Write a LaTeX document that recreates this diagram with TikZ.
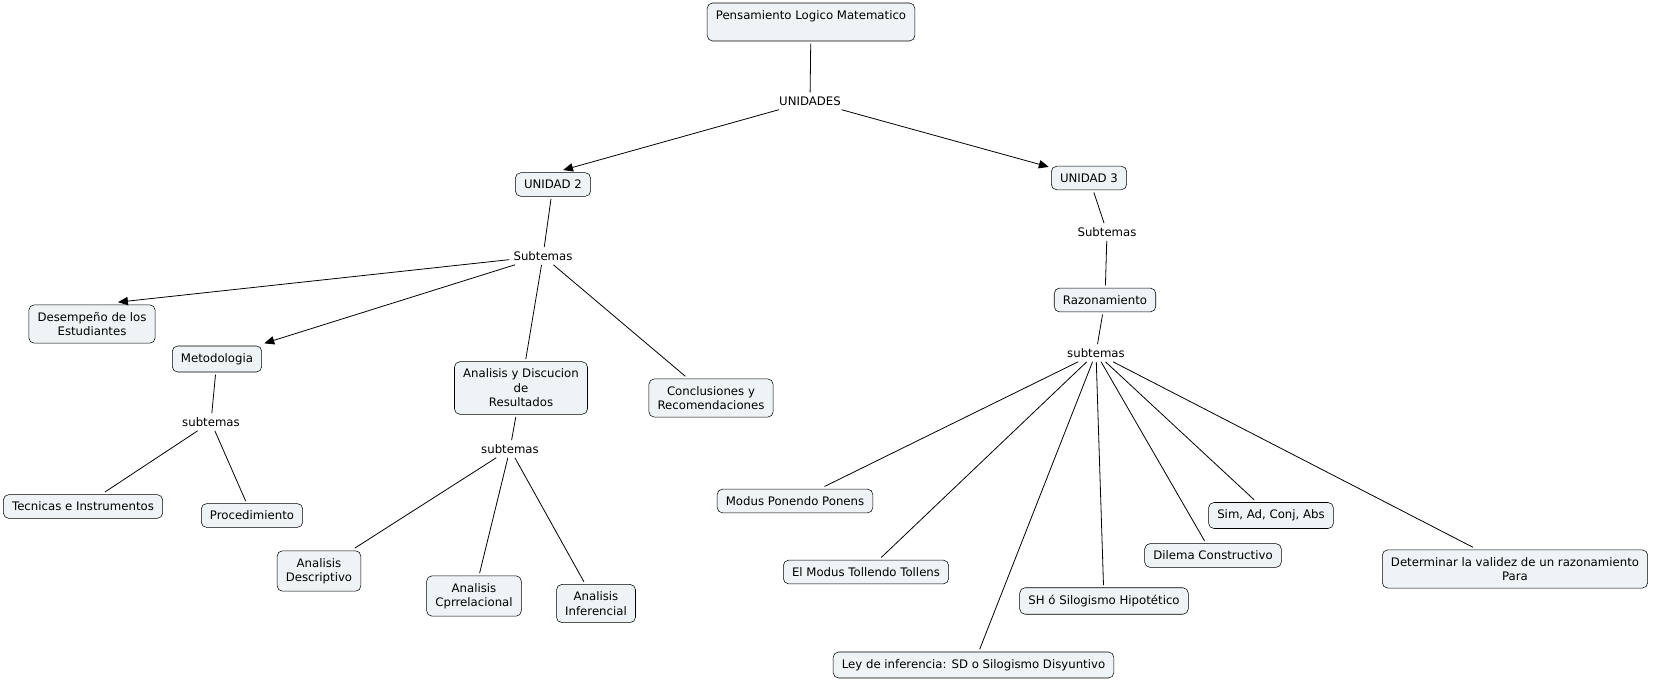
\documentclass[tikz,border=0pt]{standalone}
\usepackage{fontspec}
\setmainfont{DejaVu Sans}
\usetikzlibrary{arrows.meta, positioning}
\definecolor{cmapfill}{RGB}{238,244,246}
\tikzset{
    concept/.style={rectangle, rounded corners=4pt, draw=black, fill=cmapfill, align=center, font=\fontsize{8.8}{10.8}\selectfont, inner xsep=6.5pt, inner ysep=5.5pt, outer sep=2pt},
    phrase/.style={align=center, font=\fontsize{8.8}{10.8}\selectfont, inner sep=3pt},
    link/.style={line width=0.6pt},
    arrow/.style={line width=0.6pt, -{Triangle[length=2.6mm, width=2.2mm]}}
}
\begin{document}
\begin{tikzpicture}[x=0.75pt, y=-0.75pt]
    \useasboundingbox (0,0) rectangle (1653,681);

    % Top: main concept and its two units
    \node[concept] (logico) at (811,22) {Pensamiento Logico Matematico\\ \mbox{}};
    \node[phrase] (unidades) at (810,101) {UNIDADES};
    \node[concept] (unidad2) at (553,184.5) {UNIDAD 2};
    \node[concept] (unidad3) at (1089,178) {UNIDAD 3};
    \draw[link] (logico) -- (unidades);
    \draw[arrow] (unidades) -- (unidad2.55);
    \draw[arrow] (unidades) -- (unidad3);

    % Left branch: UNIDAD 2
    \node[phrase] (subU2) at (543,256) {Subtemas};
    \node[concept] (desempeno) at (92,324) {Desempeño de los\\Estudiantes};
    \node[concept] (metodologia) at (217,359) {Metodologia};
    \node[concept] (analisis) at (521,388) {Analisis y Discucion\\de\\Resultados};
    \node[concept] (conclusiones) at (711,398) {Conclusiones y\\Recomendaciones};
    \draw[link] (unidad2) -- (subU2);
    \draw[arrow] (subU2) -- (desempeno.40);
    \draw[arrow] (subU2) -- (metodologia.north east);
    \draw[link] (subU2) -- (analisis);
    \draw[link] (subU2) -- (conclusiones);

    \node[phrase] (subMet) at (211,422) {subtemas};
    \node[concept] (tecnicas) at (83,506.5) {Tecnicas e Instrumentos};
    \node[concept] (procedimiento) at (252,515.5) {Procedimiento};
    \draw[link] (metodologia) -- (subMet);
    \draw[link] (subMet) -- (tecnicas);
    \draw[link] (subMet) -- (procedimiento);

    \node[phrase] (subAna) at (510,449) {subtemas};
    \node[concept] (descriptivo) at (319,571) {Analisis\\Descriptivo};
    \node[concept] (correlacional) at (474,596) {Analisis\\Cprrelacional};
    \node[concept] (inferencial) at (596,603.5) {Analisis\\Inferencial};
    \draw[link] (analisis) -- (subAna);
    \draw[link] (subAna) -- (descriptivo);
    \draw[link] (subAna) -- (correlacional);
    \draw[link] (subAna) -- (inferencial);

    % Right branch: UNIDAD 3
    \node[phrase] (subU3) at (1107,232) {Subtemas};
    \node[concept] (razonamiento) at (1105,300) {Razonamiento};
    \node[phrase] (subRaz) at (1096,353) {subtemas};
    \draw[link] (unidad3) -- (subU3);
    \draw[link] (subU3) -- (razonamiento);
    \draw[link] (razonamiento) -- (subRaz);

    \node[concept] (ponens) at (795,501) {Modus Ponendo Ponens};
    \node[concept] (tollens) at (866,572) {El Modus Tollendo Tollens};
    \node[concept] (disyuntivo) at (973.5,665) {Ley de inferencia: SD o Silogismo Disyuntivo};
    \node[concept] (hipotetico) at (1104,601) {SH ó Silogismo Hipotético};
    \node[concept] (dilema) at (1213,555.5) {Dilema Constructivo};
    \node[concept] (simad) at (1271,515.5) {Sim, Ad, Conj, Abs};
    \node[concept] (validez) at (1515,569) {Determinar la validez de un razonamiento\\Para};
    \foreach \n in {ponens, tollens, disyuntivo, hipotetico, dilema, simad, validez}
        \draw[link] (subRaz) -- (\n);
\end{tikzpicture}
\end{document}
